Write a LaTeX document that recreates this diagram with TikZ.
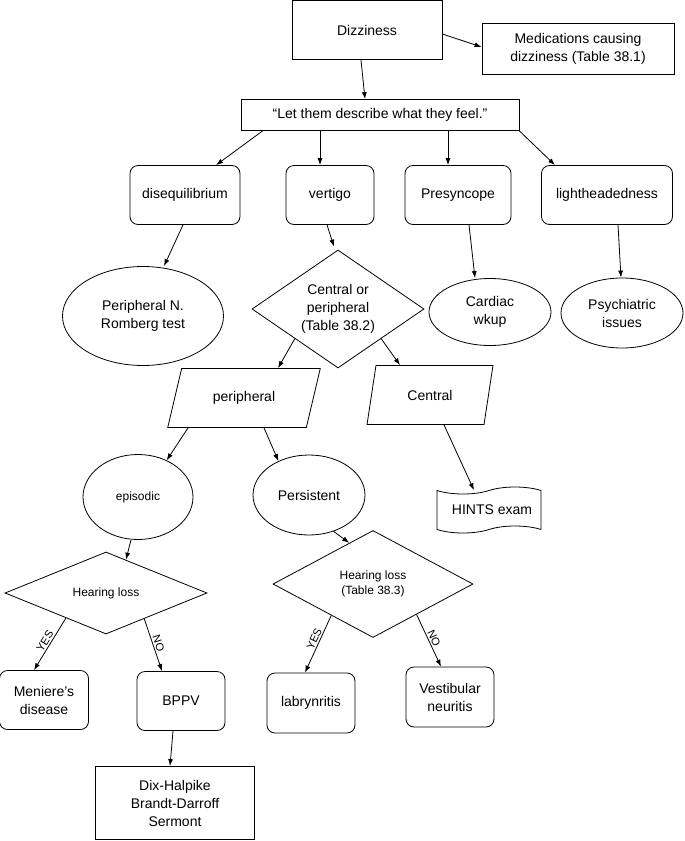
\documentclass[tikz,border=0pt]{standalone}
\usepackage{fontspec}
\setmainfont{Liberation Sans}
\usetikzlibrary{shapes.geometric,shapes.symbols,arrows.meta}
\begin{document}
\begin{tikzpicture}
[x=1pt, y=-1pt, line width=0.8pt, font=\fontsize{14}{18}\selectfont,
 >={Latex[length=7pt,width=5pt]}]
\tikzstyle{box}=[rectangle, draw, align=center, inner sep=0pt]
\tikzstyle{rbox}=[box, rounded corners=8pt, minimum width=88pt, minimum height=59pt]
\tikzstyle{oval}=[ellipse, draw, align=center, inner sep=0pt]
\tikzstyle{decision}=[diamond, draw, align=center, inner sep=0pt]
\tikzstyle{slant}=[trapezium, draw, inner sep=0pt, trapezium stretches=true, minimum height=59pt]
\tikzstyle{paper}=[tape, draw, inner sep=0pt, tape bend height=7pt]
\tikzstyle{small}=[font=\fontsize{12}{15}\selectfont]
\tikzstyle{lbl}=[font=\fontsize{11}{13}\selectfont, sloped, above, inner sep=1.5pt]
\useasboundingbox (0,0) rectangle (685,841);

% top
\node[box]  (diz)   at (367,30)  [minimum width=150pt, minimum height=59pt]{Dizziness};
\node[box]  (med)   at (578,49)  [minimum width=192pt, minimum height=51pt]{Medications causing\\dizziness (Table 38.1)};
\node[box]  (let)   at (380,115) [minimum width=278pt, minimum height=31pt]{“Let them describe what they feel.”};

% kinds of dizziness
\node[rbox] (diseq) at (185,195) [minimum width=110pt]{disequilibrium};
\node[rbox] (vert)  at (330,195) {vertigo};
\node[rbox] (pres)  at (458,195) [minimum width=106pt]{Presyncope};
\node[rbox] (light) at (607,195) [minimum width=131pt]{lightheadedness};

\node[oval]     (perN)  at (143,316) [minimum width=161pt, minimum height=99pt]{Peripheral N.\\Romberg test};
\node[decision] (cp)    at (338,309) [minimum width=172pt, minimum height=118pt, aspect=1.46]{Central or\\peripheral\\(Table 38.2)};
\node[oval]     (card)  at (490,312) [minimum width=122pt, minimum height=67pt]{Cardiac\\wkup};
\node[oval]     (psych) at (622,313) [minimum width=122pt, minimum height=70pt]{Psychiatric\\issues};

\node[slant] (perph) at (244,398) [minimum width=153pt, trapezium left angle=62, trapezium right angle=118]{peripheral};
\node[slant] (cen)   at (430,395) [minimum width=126pt, trapezium left angle=70, trapezium right angle=110]{Central};

\node[oval, small] (epi)   at (138,497) [minimum width=110pt, minimum height=85pt]{episodic};
\node[oval]        (pers)  at (309,495) [minimum width=112pt, minimum height=80pt]{Persistent};
\node[paper]       (hints) at (489,510) [minimum width=104pt, minimum height=46pt]{\hspace{6pt}HINTS exam};

\node[decision, small] (hl1) at (106,593) [minimum width=202pt, minimum height=82pt, aspect=2.46]{Hearing loss};
\node[decision, small] (hl2) at (373,584) [minimum width=200pt, minimum height=107pt, aspect=1.9]{Hearing loss\\(Table 38.3)};

% outcomes
\node[rbox] (men)  at (44,700)  [minimum width=89pt]{Meniere’s\\disease};
\node[rbox] (bppv) at (181,701) {BPPV};
\node[rbox] (lab)  at (311,703) [minimum height=60pt]{labrynritis};
\node[rbox] (vest) at (450,697) [minimum height=60pt]{Vestibular\\neuritis};
\node[box]  (dix)  at (175,803) [minimum width=159pt, minimum height=73pt]{Dix-Halpike\\Brandt-Darroff\\Sermont};

\draw[->] ([yshift=-4pt]diz.east) -- ([yshift=2pt]med.west);
\draw[->] ([xshift=-6pt]diz.south) -- ([xshift=-15pt]let.north);
\draw[->] ([xshift=22pt]let.south west) -- ([xshift=31pt]diseq.north);
\draw[->] ([xshift=-60pt]let.south) -- ([xshift=-10pt]vert.north);
\draw[->] ([xshift=68pt]let.south) -- ([xshift=-10pt]pres.north);
\draw[->] (let.south east) -- ([xshift=-52pt]light.north);

\draw[->] ([xshift=-2pt]diseq.south) -- ([xshift=21pt]perN.north);
\draw[->] ([xshift=-3pt]vert.south) -- ([xshift=-4pt,yshift=3pt]cp.north);
\draw[->] ([xshift=11pt]pres.south) -- ([xshift=-15pt]card.north);
\draw[->] ([xshift=11pt]light.south) -- ([xshift=-1pt]psych.north);

\draw[->] (cp.south west) -- ([xshift=34pt]perph.north);
\draw[->] (cp.south east) -- ([xshift=-30pt]cen.north);
\draw[->] ([xshift=-56pt]perph.south) -- (epi.52);
\draw[->] ([xshift=20pt]perph.south) -- (pers.132);
\draw[->] ([xshift=14pt]cen.south) -- ([xshift=-15pt]hints.north);

\draw[->] ([xshift=-7pt]epi.south) -- (hl1.59);
\draw[->] (pers.-56) -- (hl2.120);
\draw[->] (hl1.212) -- node[lbl, pos=0.5]{YES} ([xshift=-10pt]men.north);
\draw[->] (hl1.-34) -- node[lbl, pos=0.5]{NO} ([xshift=-19pt]bppv.north);
\draw[->] (hl2.217) -- node[lbl, pos=0.45]{YES} ([xshift=-6pt]lab.north);
\draw[->] (hl2.-35) -- node[lbl, pos=0.5]{NO} ([xshift=-9pt]vest.north);
\draw[->] ([xshift=-8pt]bppv.south) -- ([xshift=-5pt]dix.north);

\end{tikzpicture}
\end{document}
